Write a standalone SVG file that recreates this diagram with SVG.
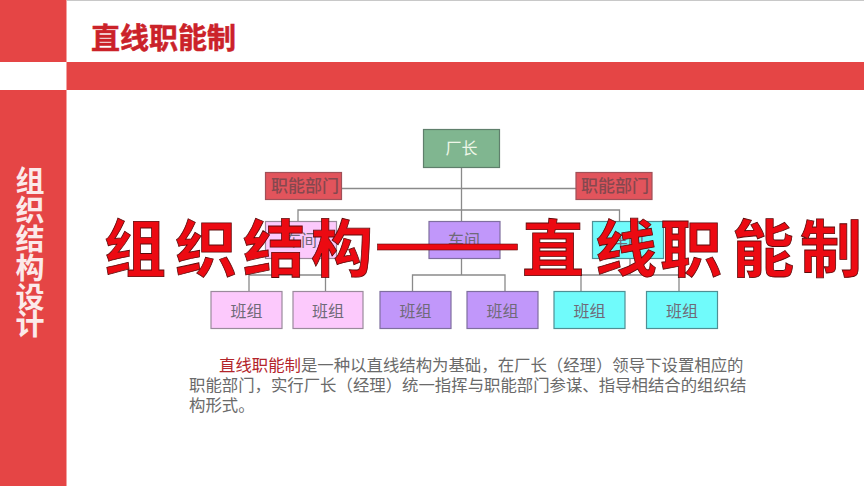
<svg xmlns="http://www.w3.org/2000/svg" width="864" height="486" viewBox="0 0 864 486">
<style>
text{font-family:"Noto Sans CJK SC","Liberation Sans",sans-serif}
.b{stroke-width:1.2}
.l{fill:none;stroke:#8a8a8a;stroke-width:1.3}
.t{font-size:16px;text-anchor:middle;fill:#6f6a78}
.p{fill:#fcc9fc;stroke:#9a8a9c}
.v{fill:#c197fa;stroke:#7f6f9f}
.c{fill:#70fbfb;stroke:#4f8f94}
.d{fill:#e2545c;stroke:#a05058}
.dt{font-size:17px;font-weight:500;text-anchor:middle;fill:#85484f}
.big{font-size:62px;font-weight:700;fill:#ec0a12;stroke:#5a0a0a;stroke-width:.8}
.para{font-size:16.400px;fill:#6a6a6a}
</style>
<rect width="864" height="486" fill="#fff"/>
<rect x="67" y="0" width="797" height="1" fill="#c8c8c8"/>
<g id="frame" fill="#e54545">
<rect x="0" y="0" width="66.500" height="62"/>
<rect x="0" y="90" width="66.500" height="396"/>
<rect x="66.500" y="62" width="797.500" height="28"/>
</g>
<text x="91" y="49" font-size="29" font-weight="700" fill="#cb2229" stroke="#cb2229" stroke-width=".5">直线职能制</text>
<text x="30" font-weight="700" font-size="29" fill="#fbeaea" text-anchor="middle"><tspan x="30" y="192">组</tspan><tspan x="30" y="221">织</tspan><tspan x="30" y="250">结</tspan><tspan x="30" y="279">构</tspan><tspan x="30" y="308">设</tspan><tspan x="30" y="335">计</tspan></text>

<g id="connectors" class="l">
<path class="l" d="M461.500 167V221M342 188.500H576M298 221V210H619.500V221M298 258V275M249 291V275H325.500V291M461.500 258V275M412.500 291V275H505V291M630 258V275M581 291V275H679V291"/>
</g>

<g id="n-factory"><rect x="423.500" y="129.500" width="76" height="38" fill="#80b690" stroke="#5f7f6c" class="b"/><text class="t" x="461.500" y="154" style="fill:#eef6e8">厂长</text></g>
<g id="n-staff-left"><rect x="265.500" y="172.500" width="76" height="27" class="d b"/><text class="dt" x="305" y="192">职能部门</text></g>
<g id="n-staff-right"><rect x="576" y="172.500" width="76" height="27" class="d b"/><text class="dt" x="615" y="192">职能部门</text></g>
<g id="n-shop-left"><rect x="265.500" y="221.500" width="71" height="37" class="p b"/><text class="t" x="301" y="246">车间</text></g>
<g id="n-shop-mid"><rect x="429" y="221.500" width="71" height="37" class="v b"/><text class="t" x="464" y="246">车间</text></g>
<g id="n-shop-right"><rect x="592.500" y="221.500" width="71" height="37" class="c b"/><text class="t" x="628" y="246">车间</text></g>
<g id="n-team-1"><rect x="211" y="291.500" width="71" height="37" class="p b"/><text class="t" x="246.500" y="317">班组</text></g>
<g id="n-team-2"><rect x="293" y="291.500" width="70" height="37" class="p b"/><text class="t" x="328" y="317">班组</text></g>
<g id="n-team-3"><rect x="380" y="291.500" width="71" height="37" class="v b"/><text class="t" x="415.500" y="317">班组</text></g>
<g id="n-team-4"><rect x="467" y="291.500" width="71" height="37" class="v b"/><text class="t" x="502.500" y="317">班组</text></g>
<g id="n-team-5"><rect x="554" y="291.500" width="71" height="37" class="c b"/><text class="t" x="589.500" y="317">班组</text></g>
<g id="n-team-6"><rect x="646.500" y="291.500" width="71" height="37" class="c b"/><text class="t" x="682" y="317">班组</text></g>

<text class="para"><tspan x="219" y="371" fill="#b3242a">直线职能制</tspan><tspan>是一种以直线结构为基础，在厂长（经理）领导下设置相应的</tspan><tspan x="189" y="391">职能部门，实行厂长（经理）统一指挥与职能部门参谋、指导相结合的组织结</tspan><tspan x="189" y="411">构形式。</tspan></text>

<text class="big" x="104 175 243 311 522 595 660 732 800" y="272">组织结构直线职能制</text>
<rect x="377.500" y="244" width="140" height="6" fill="#ec0a12" stroke="#5a0a0a" stroke-width=".6"/>
</svg>
